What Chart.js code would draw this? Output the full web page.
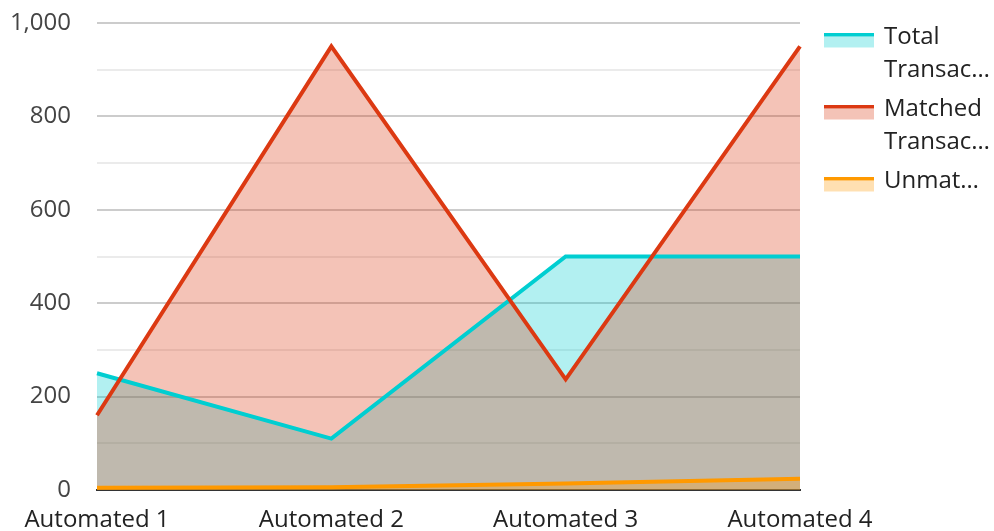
<!DOCTYPE html>
<html>
<head>
<meta charset="utf-8">
<script src="https://cdn.jsdelivr.net/npm/chart.js@4"></script>
<style>
  html, body { margin: 0; padding: 0; background: #fff; }
  #wrap { width: 994px; height: 531px; }
</style>
</head>
<body>
<div id="wrap"><canvas id="chart" width="994" height="531"></canvas></div>
<script>
const categories = ['Automated 1', 'Automated 2', 'Automated 3', 'Automated 4'];
const totalTx = [250, 110, 500, 500];
const matchedTx = [160, 950, 237, 950];
const unmatchedTx = [5, 6, 14, 24];
const legendLabels = [['Total', 'Transac\u2026'], ['Matched', 'Transac\u2026'], ['Unmat\u2026']];

const FONT = "'Open Sans', sans-serif";

// legend drawn on the right side, line on top of a filled swatch
const sideLegend = {
    id: 'sideLegend',
    afterDraw(chart) {
        const ctx = chart.ctx;
        const ds = chart.data.datasets;
        const x = 824, w = 50;
        const tops = [33, 105, 177];
        ctx.save();
        ctx.font = '24px ' + FONT;
        ctx.textBaseline = 'alphabetic';
        ds.forEach((d, i) => {
            const y = tops[i];
            ctx.fillStyle = d.backgroundColor;
            ctx.fillRect(x, y + 3.5, w, 11);
            ctx.fillStyle = d.borderColor;
            ctx.fillRect(x, y, w, 3.5);
            ctx.fillStyle = '#222';
            legendLabels[i].forEach((t, j) => {
                ctx.fillText(t, 884, y + 11 + j * 33);
            });
        });
        ctx.restore();
    }
};

const ctx = document.getElementById('chart').getContext('2d');
var myChart = new Chart(ctx, {
    type: 'line',
    data: {
        labels: categories,
        datasets: [{
            label: 'Total Transactions',
            data: totalTx,
            borderColor: 'rgb(0, 206, 209)',
            backgroundColor: 'rgba(0, 206, 209, 0.3)',
            fill: 'origin',
            order: 2
        }, {
            label: 'Matched Transactions',
            data: matchedTx,
            borderColor: 'rgb(220, 57, 18)',
            backgroundColor: 'rgba(220, 57, 18, 0.3)',
            fill: 'origin',
            order: 1
        }, {
            label: 'Unmatched',
            data: unmatchedTx,
            borderColor: 'rgb(255, 153, 0)',
            backgroundColor: 'rgba(255, 153, 0, 0.3)',
            fill: 'origin',
            order: 0
        }]
    },
    options: {
        responsive: false,
        maintainAspectRatio: false,
        animation: false,
        layout: { padding: { left: 9, right: 194, top: 23, bottom: 0 } },
        elements: {
            line: { borderWidth: 4, tension: 0 },
            point: { radius: 0, hoverRadius: 0 }
        },
        plugins: {
            legend: { display: false },
            tooltip: { enabled: false },
            filler: { drawTime: 'beforeDatasetsDraw' }
        },
        scales: {
            x: {
                offset: false,
                grid: { display: false, drawTicks: false },
                border: { display: true, color: '#333', width: 2 },
                ticks: {
                    color: '#222',
                    font: { family: FONT, size: 24 },
                    padding: 16,
                    maxRotation: 0,
                    autoSkip: false
                },
                afterFit: s => { s.height = 41; s.paddingLeft = 0; s.paddingRight = 0; }
            },
            y: {
                min: 0,
                max: 1000,
                grid: {
                    drawTicks: false,
                    color: c => (c.tick && c.tick.value % 200 === 0) ? '#cccccc' : '#ebebeb',
                    lineWidth: 2
                },
                border: { display: false },
                ticks: {
                    stepSize: 100,
                    color: '#444',
                    padding: 26,
                    font: { family: FONT, size: 24 },
                    callback: v => v % 200 === 0 ? v.toLocaleString('en-US') : ''
                },
                afterFit: s => { s.width = 88; s.paddingTop = 0; s.paddingBottom = 0; }
            }
        }
    },
    plugins: [sideLegend]
});
</script>
</body>
</html>
